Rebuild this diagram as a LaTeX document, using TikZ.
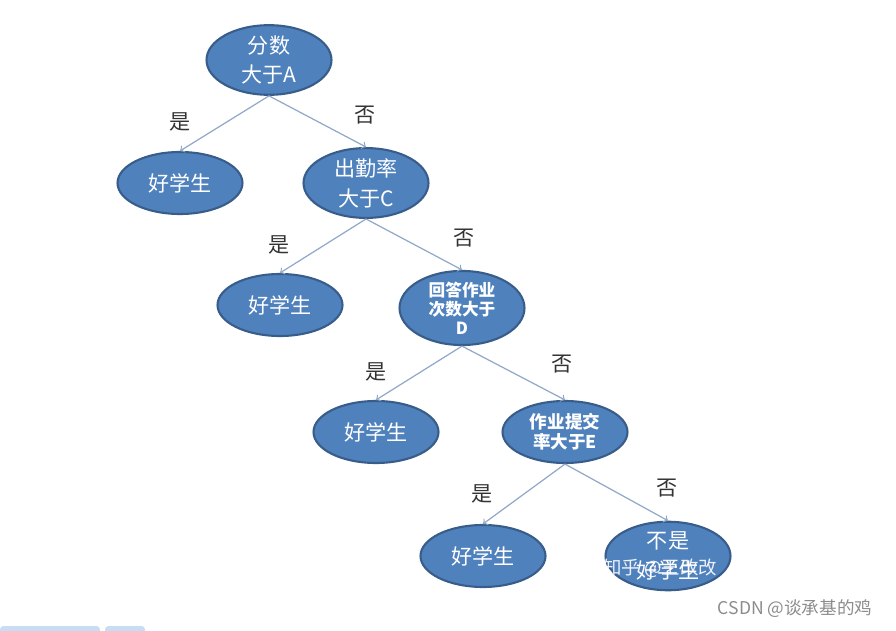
\documentclass[tikz,border=0pt]{standalone}
\usepackage{fontspec}
\setmainfont{Noto Sans CJK SC}
\usetikzlibrary{shapes.geometric}
\definecolor{nodefill}{RGB}{79,129,189}
\definecolor{nodeline}{RGB}{56,93,138}
\definecolor{edgecol}{RGB}{145,168,200}
\definecolor{markcol}{RGB}{200,220,245}
\begin{document}
\begin{tikzpicture}[x=0.02cm,y=-0.02cm,
  ell/.style={ellipse,draw=nodeline,line width=1.2pt,fill=nodefill,text=white,minimum width=2.5cm,minimum height=1.24cm,inner sep=0pt,align=center,font=\fontsize{12}{17}\selectfont},
  small/.style={font=\fontsize{9.5}{10.8}\selectfont\bfseries},
  edge/.style={draw=edgecol,line width=0.7pt,->},
  yes/.style={font=\fontsize{12}{14}\selectfont,text=black!80}]
\useasboundingbox (0,0) rectangle (896,631);
\node[ell] (a) at (269,60) {分数\\大于A};
\node[ell] (g1) at (180,183) {好学生};
\node[ell] (c) at (366,183) {出勤率\\大于C};
\node[ell] (g2) at (280,305) {好学生};
\node[ell,small] (d) at (462,308) {回答作业\\次数大于\\D};
\node[ell,small,font=\fontsize{10}{11.5}\selectfont\bfseries] (e) at (565,432) {作业提交\\率大于E};
\node[ell] (g3) at (376,432) {好学生};
\node[ell] (g4) at (483,556) {好学生};
\node[ell] (f) at (668,556) {不是\\好学生};
\draw[edge] (a.south) -- (g1.north);
\draw[edge] (a.south) -- (c.north);
\draw[edge] (c.south) -- (g2.north);
\draw[edge] (c.south) -- (d.north);
\draw[edge] (d.south) -- (g3.north);
\draw[edge] (d.south) -- (e.north);
\draw[edge] (e.south) -- (g4.north);
\draw[edge] (e.south) -- (f.north);
\node[yes] (y1) at (180,122) {是};
\node[yes] (n1) at (365,115) {否};
\node[yes] (y2) at (279,245) {是};
\node[yes] (n2) at (464,238) {否};
\node[yes] (y3) at (376,372) {是};
\node[yes] (n3) at (562,364) {否};
\node[yes] (y4) at (482,494) {是};
\node[yes] (n4) at (667,488) {否};
\node[text=white,opacity=0.9,font=\fontsize{10.5}{12}\selectfont] (wm1) at (660,568) {知乎 @王改改};
\node[text=black!45,font=\fontsize{10}{12}\selectfont] (wm2) at (795,609) {CSDN @谈承基的鸡};
\fill[markcol,rounded corners=2pt] (0,626) rectangle (100,634);
\fill[markcol,rounded corners=2pt] (105,626) rectangle (145,634);
\end{tikzpicture}
\end{document}
